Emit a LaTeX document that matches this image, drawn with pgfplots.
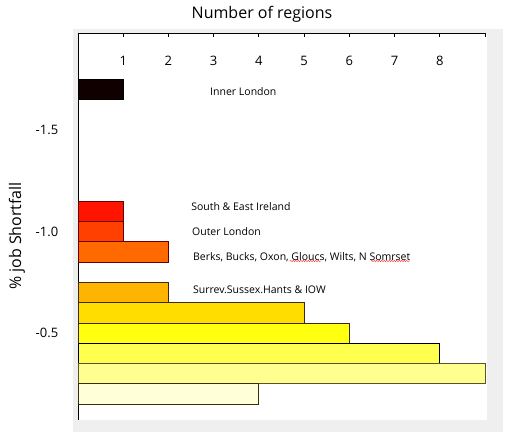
\documentclass[border=0pt]{standalone}
\usepackage{pgfplots}
\pgfplotsset{compat=1.18}
\usepackage{fontspec}
\setmainfont{Open Sans}
\usetikzlibrary{decorations.pathmorphing}
\definecolor{bgray}{HTML}{EFEFEF}
\definecolor{edge}{HTML}{3A2A10}
\definecolor{c1}{HTML}{100000}
\definecolor{c2}{HTML}{FF1400}
\definecolor{c3}{HTML}{FF4000}
\definecolor{c4}{HTML}{FF6A00}
\definecolor{c5}{HTML}{FFB400}
\definecolor{c6}{HTML}{FFDD00}
\definecolor{c7}{HTML}{FFFF10}
\definecolor{c8}{HTML}{FFFF50}
\definecolor{c9}{HTML}{FFFF90}
\definecolor{c10}{HTML}{FFFFD8}
\begin{document}
\begin{tikzpicture}[x=1pt,y=1pt]
\path[use as bounding box] (0,0) rectangle (518,443);
\fill[bgray] (73,11) rectangle (503,414);
\fill[white] (78,23) rectangle (487,410);
\begin{axis}[
  at={(78pt,23pt)}, anchor=south west,
  scale only axis, width=407pt, height=387pt,
  xmin=0, xmax=9, ymin=-1.979, ymax=-0.072,
  y dir=reverse,
  axis x line*=top, axis y line*=left,
  axis line style={black, line width=0.8pt},
  xtick={1,2,3,4,5,6,7,8,9},
  xticklabels={1,2,3,4,5,6,7,8,{}},
  tick align=inside, major tick length=4pt,
  xtick style={black, line width=0.8pt},
  xticklabel style={anchor=center, yshift=-28pt, font=\fontsize{13}{15}\selectfont},
  ytick={-1.5,-1.0,-0.5},
  yticklabels={-1.5,-1.0,-0.5},
  ytick style={draw=none},
  yticklabel style={anchor=center, xshift=-31pt, font=\fontsize{13}{15}\selectfont},
  clip=false,
  mybar/.style={xbar, bar width=0.1, bar shift=0pt, draw=edge, line width=0.9pt},
]
\addplot[mybar, fill=c1, draw=black] coordinates {(1,-1.7)};
\addplot[mybar, fill=c2, draw=black!60!red] coordinates {(1,-1.1)};
\addplot[mybar, fill=c3, draw=black!60!red] coordinates {(1,-1.0)};
\addplot[mybar, fill=c4, draw=black!60!red] coordinates {(2,-0.9)};
\addplot[mybar, fill=c5] coordinates {(2,-0.7)};
\addplot[mybar, fill=c6] coordinates {(5,-0.6)};
\addplot[mybar, fill=c7] coordinates {(6,-0.5)};
\addplot[mybar, fill=c8, draw=black] coordinates {(8,-0.4)};
\addplot[mybar, fill=c9, draw=black!50!olive] coordinates {(9,-0.3)};
\addplot[mybar, fill=c10] coordinates {(4,-0.2)};
\begin{scope}[every node/.style={anchor=west, inner sep=0pt, font=\fontsize{10.5}{12}\selectfont}]
\node at (axis cs:2.92,-1.688) {Inner London};
\node at (axis cs:2.50,-1.123) {South \& East Ireland};
\node at (axis cs:2.52,-1.003) {Outer London};
\node at (axis cs:2.54,-0.873) {Berks, Bucks, Oxon, Gloucs, Wilts, N Somrset};
\node at (axis cs:2.54,-0.716) {Surrev.Sussex.Hants \& IOW};
\end{scope}
\end{axis}
\draw[red, line width=0.4pt, decorate, decoration={snake, amplitude=0.5pt, segment length=2.5pt}] (290,182) -- (321,182);
\draw[red, line width=0.4pt, decorate, decoration={snake, amplitude=0.5pt, segment length=2.5pt}] (371,182) -- (410,182);
\node[font=\fontsize{16}{19}\selectfont] at (262,429) {Number of regions};
\node[rotate=90, font=\fontsize{16}{19}\selectfont] at (17,207) {\% job Shortfall};
\end{tikzpicture}
\end{document}
